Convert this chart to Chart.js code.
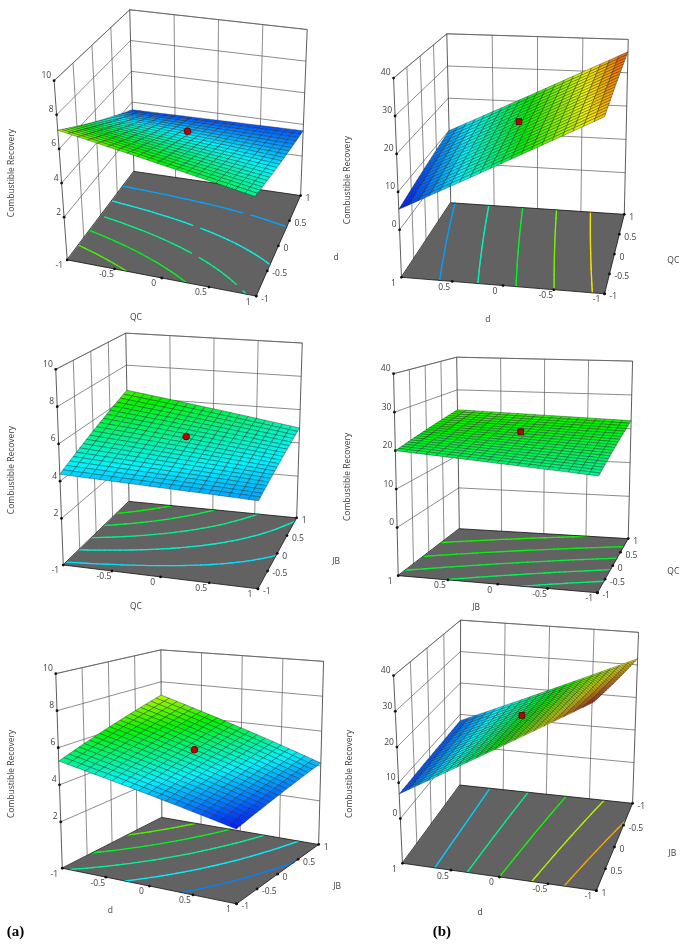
<!DOCTYPE html>
<html lang="en">
<head>
<meta charset="UTF-8">
<title>Combustible Recovery response surfaces</title>
<style>
  body { margin: 0; background: #fff; }
  canvas { display: block; }
</style>
</head>
<body>
<canvas id="surfaces" width="685" height="944"></canvas>
<script src="https://cdn.jsdelivr.net/npm/chart.js@4.4.0/dist/chart.umd.min.js"></script>
<script>
// coded factor levels of the 3x3 grids and the axis ticks
const factorLevels = [-1, 0, 1];
const axisTicks = [-1, -0.5, 0, 0.5, 1];
const recTicksA = [2, 4, 6, 8, 10];
const recTicksB = [0, 10, 20, 30, 40];

// Combustible Recovery read off the surfaces
// rows: second factor = -1, 0, 1 ; columns: first factor = -1, 0, 1
const recQcD  = [[7.10, 6.15, 5.20], [5.30, 4.85, 4.40], [3.50, 3.55, 3.60]];   // QC x d
const recQcJb = [[4.37, 4.22, 4.07], [5.40, 4.95, 4.49], [6.44, 5.67, 4.90]];   // QC x JB
const recDJb  = [[5.28, 4.26, 3.24], [6.23, 4.97, 3.71], [7.17, 5.67, 4.17]];   // d x JB
const recDQc  = [[32.8, 19.1, 5.4], [34.55, 21.1, 7.65], [36.3, 23.1, 9.9]];    // d x QC
const recJbQc = [[17.0, 18.5, 20.0], [19.7, 20.8, 21.95], [22.4, 23.15, 23.9]]; // JB x QC
const recDJb2 = [[31.9, 19.95, 8.0], [35.2, 21.33, 7.45], [38.5, 22.7, 6.9]];   // d x JB
const designRecA = 5.55;
const designRecB = 22.7;

// box corners of each panel on the page (floor A,B,C,D and top of A,C,D)
const panels = [
  { xName: 'QC', yName: 'd', grid: recQcD, xDir: 1, yDir: 1, ticks: recTicksA, zLo: -0.5, zHi: 10, cLo: 3.1, cHi: 9.0, design: designRecA, col: 'a',
    A: [63.3, 257.7], B: [255, 294.3], C: [300, 192.7], D: [131, 168.3], At: [50, 76.7], Ct: [306.7, 25], Dt: [126.7, 5],
    xt: [133, 316], yt: [336, 255], zt: [7, 170] },
  { xName: 'd', yName: 'QC', grid: recDQc, xDir: -1, yDir: 1, ticks: recTicksB, zLo: -12.5, zHi: 40, cLo: 5, cHi: 39, design: designRecB, col: 'b',
    A: [402.3, 275.3], B: [608.3, 292], C: [628.3, 211.7], D: [452.3, 200], At: [394.3, 74], Ct: [632.3, 35], Dt: [448.3, 29.3],
    xt: [490, 318], yt: [678, 258], zt: [348, 177] },
  { xName: 'QC', yName: 'JB', grid: recQcJb, xDir: 1, yDir: 1, ticks: recTicksA, zLo: -0.5, zHi: 10, cLo: 3.1, cHi: 9.0, design: designRecA, col: 'a',
    A: [59.3, 566], B: [256.7, 590], C: [296, 518.3], D: [126, 501.7], At: [51.7, 368.3], Ct: [301.7, 341.7], Dt: [122.7, 331.7],
    xt: [133, 608], yt: [336, 563], zt: [7, 470] },
  { xName: 'JB', yName: 'QC', grid: recJbQc, xDir: -1, yDir: 1, ticks: recTicksB, zLo: -12.5, zHi: 40, cLo: 5, cHi: 39, design: designRecB, col: 'b',
    A: [399, 576.7], B: [601, 594], C: [632.3, 539.3], D: [461, 529.3], At: [394.3, 372.7], Ct: [636.7, 360], Dt: [458.3, 356],
    xt: [478, 609], yt: [678, 573], zt: [348, 477] },
  { xName: 'd', yName: 'JB', grid: recDJb, xDir: 1, yDir: 1, ticks: recTicksA, zLo: -0.5, zHi: 10, cLo: 3.1, cHi: 9.0, design: designRecA, col: 'a',
    A: [58.3, 872.3], B: [235, 908.3], C: [318.3, 848.3], D: [159.3, 821], At: [51.7, 675.7], Ct: [323.3, 663.3], Dt: [158.3, 651.7],
    xt: [107, 915], yt: [337, 891], zt: [7, 777] },
  { xName: 'd', yName: 'JB', grid: recDJb2, xDir: -1, yDir: -1, ticks: recTicksB, zLo: -12.5, zHi: 40, cLo: 5, cHi: 39, design: designRecB, col: 'b',
    A: [403.3, 867.3], B: [600, 895], C: [636.7, 806.7], D: [461.7, 788.3], At: [394.3, 677.7], Ct: [642.7, 634], Dt: [462.3, 621.7],
    xt: [482, 917], yt: [677, 858], zt: [350, 777] }
];

// top of the front-right edge is hidden in the picture, complete the box
panels.forEach(p => {
  p.Bt = [p.At[0] + p.Ct[0] - p.Dt[0] - (p.A[0] + p.C[0] - p.B[0] - p.D[0]),
          p.At[1] + p.Ct[1] - p.Dt[1] - (p.A[1] + p.C[1] - p.B[1] - p.D[1])];
});

function lagr(t) { return [t * (t - 1) / 2, 1 - t * t, t * (t + 1) / 2]; }

function surfZ(p, u, v) {
  const lx = lagr(p.xDir * (2 * u - 1)), ly = lagr(p.yDir * (2 * v - 1));
  let s = 0;
  for (let i = 0; i < factorLevels.length; i++)
    for (let j = 0; j < factorLevels.length; j++) s += ly[i] * lx[j] * p.grid[i][j];
  return s;
}

function bil(a, b, c, d, u, v) {
  return [(1 - u) * (1 - v) * a[0] + u * (1 - v) * b[0] + u * v * c[0] + (1 - u) * v * d[0],
          (1 - u) * (1 - v) * a[1] + u * (1 - v) * b[1] + u * v * c[1] + (1 - u) * v * d[1]];
}

function proj(p, u, v, w) {
  const f = bil(p.A, p.B, p.C, p.D, u, v), t = bil(p.At, p.Bt, p.Ct, p.Dt, u, v);
  return [f[0] + (t[0] - f[0]) * w, f[1] + (t[1] - f[1]) * w];
}

function wOf(p, z) { return (z - p.zLo) / (p.zHi - p.zLo); }

function rainbow(t) {
  t = Math.max(0, Math.min(1, t));
  let r, g, b;
  if (t < 0.25) { r = 0; g = t / 0.25; b = 1; }
  else if (t < 0.5) { r = 0; g = 1; b = 1 - (t - 0.25) / 0.25; }
  else if (t < 0.75) { r = (t - 0.5) / 0.25; g = 1; b = 0; }
  else { r = 1; g = 1 - (t - 0.75) / 0.25; b = 0; }
  return 'rgb(' + Math.round(r * 245) + ',' + Math.round(g * 245) + ',' + Math.round(b * 255) + ')';
}

const surfacePlugin = {
  id: 'surface3d',
  beforeDatasetsDraw(chart) {
    const ctx = chart.ctx;
    const sx = chart.scales.x, sy = chart.scales.y;
    const px = pt => [sx.getPixelForValue(pt[0]), sy.getPixelForValue(pt[1])];
    const P = (p, u, v, w) => px(proj(p, u, v, w));
    const line = (a, b) => { ctx.beginPath(); ctx.moveTo(a[0], a[1]); ctx.lineTo(b[0], b[1]); ctx.stroke(); };
    const font = '8.5px "Open Sans", "Noto Sans", sans-serif';
    ctx.setLineDash([]);

    panels.forEach(p => {
      const tickW = p.ticks.map(z => wOf(p, z));
      const gridPos = axisTicks.map(t => (t + 1) / 2);

      // back walls
      ctx.save();
      ctx.strokeStyle = '#5a5a5a';
      ctx.lineWidth = 0.7;
      gridPos.slice(1, 4).forEach(g => {
        line(P(p, 0, g, 0), P(p, 0, g, 1));
        line(P(p, g, 1, 0), P(p, g, 1, 1));
      });
      tickW.concat([1]).forEach(w => {
        line(P(p, 0, 0, w), P(p, 0, 1, w));
        line(P(p, 0, 1, w), P(p, 1, 1, w));
      });
      ctx.strokeStyle = '#333';
      ctx.lineWidth = 0.8;
      line(P(p, 0, 0, 0), P(p, 0, 0, 1));
      line(P(p, 0, 1, 0), P(p, 0, 1, 1));
      line(P(p, 1, 1, 0), P(p, 1, 1, 1));
      ctx.restore();

      // floor
      const fl = [P(p, 0, 0, 0), P(p, 1, 0, 0), P(p, 1, 1, 0), P(p, 0, 1, 0)];
      ctx.save();
      ctx.beginPath();
      fl.forEach((q, i) => i ? ctx.lineTo(q[0], q[1]) : ctx.moveTo(q[0], q[1]));
      ctx.closePath();
      ctx.fillStyle = '#626262';
      ctx.fill();

      // contours on the floor (marching squares)
      const M = 40;
      const zg = [];
      let zmin = Infinity, zmax = -Infinity;
      for (let i = 0; i <= M; i++) {
        zg.push([]);
        for (let j = 0; j <= M; j++) {
          const z = surfZ(p, j / M, i / M);
          zg[i].push(z);
          zmin = Math.min(zmin, z); zmax = Math.max(zmax, z);
        }
      }
      ctx.lineWidth = 1.3;
      ctx.lineCap = 'round';
      ctx.lineJoin = 'round';
      for (let k = 1; k <= 5; k++) {
        const lev = zmin + (zmax - zmin) * k / 6;
        ctx.strokeStyle = rainbow((lev - p.cLo) / (p.cHi - p.cLo));
        for (let i = 0; i < M; i++) {
          for (let j = 0; j < M; j++) {
            const c = [[j, i, zg[i][j]], [j + 1, i, zg[i][j + 1]], [j + 1, i + 1, zg[i + 1][j + 1]], [j, i + 1, zg[i + 1][j]]];
            const pts = [];
            for (let e = 0; e < 4; e++) {
              const a = c[e], b = c[(e + 1) % 4];
              if ((a[2] - lev) * (b[2] - lev) < 0) {
                const t = (lev - a[2]) / (b[2] - a[2]);
                pts.push(P(p, (a[0] + (b[0] - a[0]) * t) / M, (a[1] + (b[1] - a[1]) * t) / M, 0));
              }
            }
            for (let s = 0; s + 1 < pts.length; s += 2) line(pts[s], pts[s + 1]);
          }
        }
      }
      ctx.beginPath();
      fl.forEach((q, i) => i ? ctx.lineTo(q[0], q[1]) : ctx.moveTo(q[0], q[1]));
      ctx.closePath();
      ctx.strokeStyle = '#111';
      ctx.lineWidth = 0.8;
      ctx.stroke();
      ctx.restore();

      // tick dots
      ctx.save();
      ctx.fillStyle = '#111';
      const dot = q => { ctx.beginPath(); ctx.arc(q[0], q[1], 1.4, 0, Math.PI * 2); ctx.fill(); };
      gridPos.forEach(g => { dot(P(p, g, 0, 0)); dot(P(p, 1, g, 0)); });
      tickW.forEach(w => dot(P(p, 0, 0, w)));
      ctx.restore();

      // surface mesh, back cells first
      const N = 20;
      const cells = [];
      for (let i = 0; i < N; i++) {
        for (let j = 0; j < N; j++) {
          const corners = [[j, i], [j + 1, i], [j + 1, i + 1], [j, i + 1]].map(c => {
            const u = c[0] / N, v = c[1] / N;
            return P(p, u, v, wOf(p, surfZ(p, u, v)));
          });
          const zc = surfZ(p, (j + 0.5) / N, (i + 0.5) / N);
          cells.push({ corners, zc, depth: P(p, (j + 0.5) / N, (i + 0.5) / N, 0)[1] });
        }
      }
      cells.sort((a, b) => a.depth - b.depth);
      ctx.save();
      ctx.lineWidth = 0.45;
      ctx.strokeStyle = 'rgba(30,30,30,0.85)';
      ctx.lineJoin = 'round';
      cells.forEach(c => {
        ctx.beginPath();
        c.corners.forEach((q, k) => k ? ctx.lineTo(q[0], q[1]) : ctx.moveTo(q[0], q[1]));
        ctx.closePath();
        ctx.fillStyle = rainbow((c.zc - p.cLo) / (p.cHi - p.cLo));
        ctx.fill();
        ctx.stroke();
      });
      ctx.restore();

      // labels
      ctx.save();
      ctx.font = font;
      ctx.fillStyle = '#404040';
      ctx.textBaseline = 'middle';
      ctx.textAlign = 'center';
      axisTicks.forEach(t => {
        const q = P(p, (p.xDir * t + 1) / 2, 0, 0);
        ctx.fillText(String(t), q[0] - 8, q[1] + 6);
      });
      ctx.textAlign = 'left';
      axisTicks.forEach(t => {
        const q = P(p, 1, (p.yDir * t + 1) / 2, 0);
        ctx.fillText(String(t), q[0] + 5, q[1] + 3);
      });
      ctx.textAlign = 'right';
      p.ticks.forEach((z, k) => {
        const q = P(p, 0, 0, tickW[k]);
        ctx.fillText(String(z), q[0] - 3, q[1] - 5);
      });
      ctx.textAlign = 'center';
      const xt = px(p.xt), yt = px(p.yt), zt = px(p.zt);
      ctx.fillText(p.xName, xt[0], xt[1]);
      ctx.fillText(p.yName, yt[0], yt[1]);
      ctx.translate(zt[0], zt[1]);
      ctx.rotate(-Math.PI / 2);
      ctx.fillText('Combustible Recovery', 0, 0);
      ctx.restore();
    });

    // panel letters
    ctx.save();
    ctx.font = 'bold 15px "Liberation Serif", "Times New Roman", serif';
    ctx.fillStyle = '#000';
    ctx.textBaseline = 'alphabetic';
    const la = px([2, 941]), lb = px([434, 941]);
    ctx.fillText('(a)', la[0], la[1]);
    ctx.fillText('(b)', lb[0], lb[1]);
    ctx.restore();
  }
};

const designPoints = col => panels.filter(p => p.col === col).map(p => {
  const q = proj(p, 0.5, 0.5, wOf(p, p.design));
  return { x: q[0], y: q[1] };
});

new Chart(document.getElementById('surfaces'), {
  type: 'scatter',
  data: {
    datasets: [
      { data: designPoints('a'), pointStyle: 'circle', pointRadius: 3.4, backgroundColor: '#c00000', borderColor: '#4a0000', borderWidth: 0.8 },
      { data: designPoints('b'), pointStyle: 'rect', pointRadius: 4, backgroundColor: '#c00000', borderColor: '#4a0000', borderWidth: 0.8 }
    ]
  },
  options: {
    responsive: false,
    animation: false,
    events: [],
    layout: { padding: 0 },
    plugins: { legend: { display: false }, tooltip: { enabled: false } },
    scales: {
      x: { type: 'linear', min: 0, max: 685, display: false },
      y: { type: 'linear', min: 0, max: 944, reverse: true, display: false }
    }
  },
  plugins: [surfacePlugin]
});
</script>
</body>
</html>
